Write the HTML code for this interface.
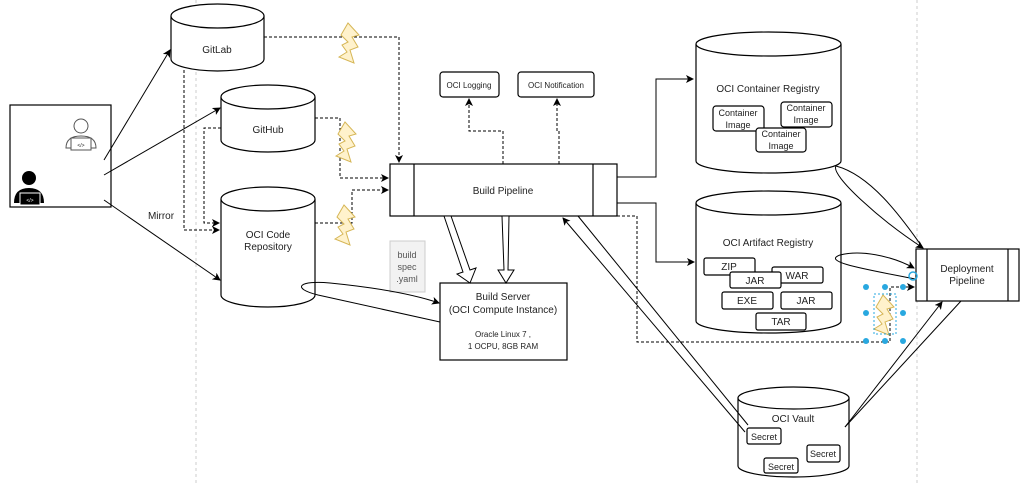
<!DOCTYPE html>
<html><head><meta charset="utf-8"><style>
html,body{margin:0;padding:0;background:#fff;}
svg{display:block;font-family:"Liberation Sans",sans-serif;}
text{fill:#222;}
</style></head><body>
<svg width="1024" height="483" viewBox="0 0 1024 483" xmlns="http://www.w3.org/2000/svg">
<defs>
<marker id="a" markerWidth="8" markerHeight="8" refX="7" refY="4" orient="auto" markerUnits="userSpaceOnUse"><path d="M0,0 L8,4 L0,8 L2,4 z" fill="#000"/></marker>
<g id="bolt"><path d="M9,0 L20,12 L13,14 L19,24 L11,27 L15,40 L0,34 L8,29 L3,22 L9,19 L2,12 z" fill="#fff2cc" stroke="#d6b656" stroke-width="1"/></g>
</defs>
<!-- background dashed guides -->
<line x1="196" y1="0" x2="196" y2="483" stroke="#ccc" stroke-dasharray="3,3"/>
<line x1="917" y1="0" x2="917" y2="483" stroke="#ccc" stroke-dasharray="3,3"/>

<g fill="none" stroke="#000" stroke-width="1.2">
<!-- user box -->
<rect x="10" y="105" width="101" height="102" fill="#fff"/>

<!-- cylinders -->
<path d="M171,16 v43 a46.5,12 0 0 0 93,0 v-43" fill="#fff"/><ellipse cx="217.5" cy="16" rx="46.5" ry="12" fill="#fff"/>
<path d="M221,97 v43 a47,12 0 0 0 94,0 v-43" fill="#fff"/><ellipse cx="268" cy="97" rx="47" ry="12" fill="#fff"/>
<path d="M221,199 v96 a47,12 0 0 0 94,0 v-96" fill="#fff"/><ellipse cx="268" cy="199" rx="47" ry="12" fill="#fff"/>
<path d="M696,44 v117 a72.5,12 0 0 0 145,0 v-117" fill="#fff"/><ellipse cx="768.5" cy="44" rx="72.5" ry="12" fill="#fff"/>
<path d="M696,203 v118 a72.5,12 0 0 0 145,0 v-118" fill="#fff"/><ellipse cx="768.5" cy="203" rx="72.5" ry="12" fill="#fff"/>
<path d="M738,398 v68 a55.5,11 0 0 0 111,0 v-68" fill="#fff"/><ellipse cx="793.5" cy="398" rx="55.5" ry="11" fill="#fff"/>

<!-- build pipeline -->
<rect x="390" y="164" width="227" height="52" fill="#fff"/>
<line x1="414" y1="164" x2="414" y2="216"/><line x1="593" y1="164" x2="593" y2="216"/>
<!-- deployment pipeline -->
<rect x="916" y="249" width="103" height="52" fill="#fff"/>
<line x1="927" y1="249" x2="927" y2="301"/><line x1="1008" y1="249" x2="1008" y2="301"/>
<!-- build server -->
<rect x="440" y="283" width="127" height="77" fill="#fff"/>
<!-- logging / notification -->
<rect x="440" y="72" width="59" height="25" rx="3" fill="#fff"/>
<rect x="518" y="72" width="76" height="25" rx="3" fill="#fff"/>

<!-- container images -->
<rect x="713" y="106" width="51" height="25" rx="3" fill="#fff"/>
<rect x="781" y="102" width="51" height="25" rx="3" fill="#fff"/>
<rect x="756" y="128" width="50" height="24" rx="3" fill="#fff"/>
<!-- artifacts -->
<rect x="704" y="258" width="51" height="17" rx="2" fill="#fff"/>
<rect x="772" y="267" width="51" height="16" rx="2" fill="#fff"/>
<rect x="730" y="272" width="51" height="16" rx="2" fill="#fff"/>
<rect x="722" y="292" width="51" height="17" rx="2" fill="#fff"/>
<rect x="781" y="292" width="51" height="17" rx="2" fill="#fff"/>
<rect x="756" y="313" width="50" height="17" rx="2" fill="#fff"/>
<!-- secrets -->
<rect x="747" y="428" width="34" height="16" rx="2" fill="#fff"/>
<rect x="807" y="445" width="33" height="17" rx="2" fill="#fff"/>
<rect x="764" y="458" width="34" height="15" rx="2" fill="#fff"/>
</g>

<rect x="390" y="241" width="35" height="51" fill="#f2f2f2" stroke="#ccc"/>

<!-- solid arrows -->
<g fill="none" stroke="#000" stroke-width="1">
<line x1="104" y1="160" x2="170" y2="50" marker-end="url(#a)"/>
<line x1="104" y1="175" x2="220" y2="108" marker-end="url(#a)"/>
<line x1="104" y1="200" x2="220" y2="280" marker-end="url(#a)"/>
<path d="M617,177 H656 V79 H693" marker-end="url(#a)"/>
<path d="M617,203 H656 V262 H694" marker-end="url(#a)"/>
<path d="M440,322 L318,295 C290,288 300,280 330,283 C370,287 410,293 439,303" marker-end="url(#a)"/>
<line x1="578" y1="216" x2="748" y2="425"/>
<line x1="745" y1="432" x2="563" y2="218" marker-end="url(#a)"/>
<path d="M836,166 C830,175 880,220 923,248" marker-end="url(#a)"/>
<path d="M836,166 C870,175 900,215 923,248"/>
<path d="M915,279 C870,270 820,262 840,255 C860,250 890,255 914,268" marker-end="url(#a)"/>
<line x1="845" y1="427" x2="942" y2="302" marker-end="url(#a)"/>
<line x1="845" y1="427" x2="961" y2="301"/>
<!-- hollow arrows -->
<path d="M444,216 L451,216 L470,270 L476,268 L470,283 L457,274 L463,272 L444,216 z" fill="#fff"/>
<path d="M502,216 L509,216 L508,270 L514,270 L506,283 L498,270 L504,270 z" fill="#fff"/>
</g>

<!-- dashed -->
<g fill="none" stroke="#000" stroke-width="1" stroke-dasharray="3,2">
<path d="M264,37 H399 V162" marker-end="url(#a)"/>
<path d="M315,118 H340 V178 H388" marker-end="url(#a)"/>
<path d="M315,223 H352 V190 H388" marker-end="url(#a)"/>
<path d="M184,70 V230 H219" marker-end="url(#a)"/>
<path d="M221,128 H204 V223 H219" marker-end="url(#a)"/>
<path d="M503,164 V131 H469 V99" marker-end="url(#a)"/>
<path d="M559,164 V131 H557 V99" marker-end="url(#a)"/>
<path d="M617,216 H637 V342 H890 V287 H914" marker-end="url(#a)"/>
</g>

<use href="#bolt" x="339" y="23"/>
<use href="#bolt" x="336" y="122"/>
<use href="#bolt" x="335" y="205"/>
<use href="#bolt" x="874" y="295"/>
<rect x="874" y="294" width="22" height="40" fill="none" stroke="#29a8e0" stroke-dasharray="2,2"/>
<g fill="#29a8e0">
<circle cx="866" cy="287" r="3"/><circle cx="885" cy="287" r="3"/><circle cx="903" cy="287" r="3"/>
<circle cx="866" cy="313" r="3"/><circle cx="903" cy="313" r="3"/>
<circle cx="866" cy="341" r="3"/><circle cx="885" cy="341" r="3"/><circle cx="903" cy="341" r="3"/>
</g>
<circle cx="913" cy="276" r="4" fill="none" stroke="#29a8e0" stroke-width="1.5"/>

<!-- people icons -->
<g stroke="#555" fill="#fff">
<circle cx="81" cy="126" r="7"/><path d="M66,148 Q66,136 81,136 Q96,136 96,148 Z"/><rect x="71" y="138" width="20" height="12"/>
</g>
<text x="81" y="147" font-size="5" text-anchor="middle">&lt;/&gt;</text>
<g fill="#000">
<circle cx="29" cy="178" r="7"/><path d="M14,203 Q14,188 29,188 Q44,188 44,203 Z"/>
</g>
<rect x="20" y="193" width="20" height="12" fill="#000" stroke="#fff"/>
<text x="30" y="202" font-size="5" text-anchor="middle" style="fill:#fff">&lt;/&gt;</text>

<!-- labels -->
<g font-size="10" text-anchor="middle">
<text x="217" y="53">GitLab</text>
<text x="268" y="133">GitHub</text>
<text x="268" y="238">OCI Code</text>
<text x="268" y="250">Repository</text>
<text x="161" y="219">Mirror</text>
<text x="503" y="194">Build  Pipeline</text>
<text x="469" y="88" font-size="8">OCI Logging</text>
<text x="556" y="88" font-size="8">OCI Notification</text>
<text x="407" y="258" font-size="9" style="fill:#555">build</text>
<text x="407" y="270" font-size="9" style="fill:#555">spec</text>
<text x="407" y="282" font-size="9" style="fill:#555">.yaml</text>
<text x="503" y="300">Build Server</text>
<text x="503" y="313">(OCI Compute Instance)</text>
<text x="503" y="337" font-size="8">Oracle Linux 7 ,</text>
<text x="503" y="349" font-size="8">1 OCPU, 8GB RAM</text>
<text x="768" y="92">OCI Container Registry</text>
<text x="738" y="116" font-size="9">Container</text><text x="738" y="128" font-size="9">Image</text>
<text x="806" y="111" font-size="9">Container</text><text x="806" y="123" font-size="9">Image</text>
<text x="781" y="137" font-size="9">Container</text><text x="781" y="149" font-size="9">Image</text>
<text x="768" y="246">OCI Artifact Registry</text>
<text x="729" y="270">ZIP</text>
<text x="797" y="279">WAR</text>
<text x="755" y="284">JAR</text>
<text x="747" y="304">EXE</text>
<text x="806" y="304">JAR</text>
<text x="781" y="325">TAR</text>
<text x="793" y="422">OCI Vault</text>
<text x="764" y="440" font-size="9">Secret</text>
<text x="823" y="457" font-size="9">Secret</text>
<text x="781" y="470" font-size="9">Secret</text>
<text x="967" y="272">Deployment</text>
<text x="967" y="284">Pipeline</text>
</g>
</svg>
</body></html>
